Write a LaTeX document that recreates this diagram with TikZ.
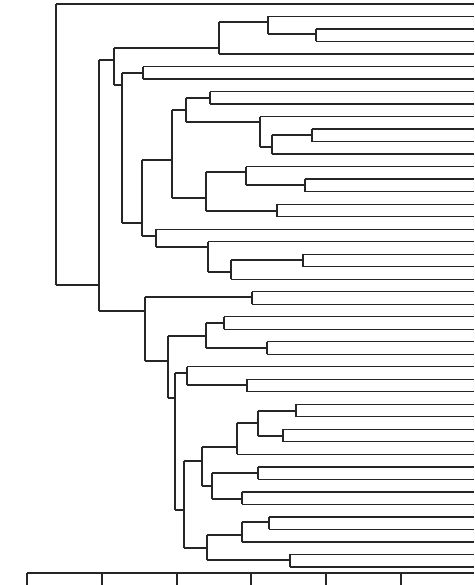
\documentclass[tikz,border=0pt]{standalone}
\begin{document}
\begin{tikzpicture}[x=1pt,y=-1pt,br/.style={draw=black!85,line width=1.3pt,line cap=square}]
\useasboundingbox (0,0) rectangle (474,585);
\fill[white] (0,0) rectangle (474,585);
% leaf branches: parent x / leaf y
\foreach \px/\y in {56/4.0, 268/16.5, 316/29.0, 316/41.5, 219/54.0, 143/66.6, 143/79.1,
  210/91.6, 210/104.1, 260/116.6, 312/129.1, 312/141.6, 272/154.1, 246/166.6,
  305/179.1, 305/191.7, 277/204.2, 277/216.7, 156/229.2, 208/241.7, 303/254.2,
  303/266.7, 231/279.2, 252/291.7, 252/304.2, 224/316.8, 224/329.3, 267/341.8,
  267/354.3, 187/366.8, 247/379.3, 247/391.8, 296/404.3, 296/416.8, 283/429.3,
  283/441.8, 237/454.4, 258/466.9, 258/479.4, 242/491.9, 242/504.4, 269/516.9,
  269/529.4, 242/541.9, 290/554.4, 290/567.0}
  \draw[br] (\px,\y) coordinate (tip) -- (474,\y);
% internal horizontal connectors: parent x / child x / y
\foreach \a/\b/\y in {56/99/285, 99/114/60, 114/219/48, 219/268/22, 268/316/34,
  114/122/85, 122/143/73, 122/142/223, 142/172/160, 172/186/110, 186/210/98,
  186/260/122, 260/272/147, 272/312/135, 172/206/198, 206/246/172, 246/305/185,
  206/277/211, 142/156/236, 156/208/247, 208/231/272, 231/303/260, 99/145/311,
  145/252/297, 145/168/361, 168/206/336, 206/224/323, 206/267/348, 168/175/398,
  175/187/373, 187/247/385, 175/184/510, 184/202/461, 202/237/447, 237/258/423,
  258/296/411, 258/283/436, 202/212/486, 212/258/473, 212/242/499, 184/207/548,
  207/242/535, 242/269/522, 207/290/560}
  \draw[br] (\a,\y) -- (\b,\y);
% verticals: x / top / bottom
\foreach \x/\ya/\yb in {56/4/285, 99/60/311, 114/48/85, 219/22/54, 268/16.5/34,
  316/29/41.5, 122/73/223, 143/66.6/79.1, 142/160/236, 172/110/198, 186/98/122,
  210/91.6/104.1, 260/116.6/147, 272/135/154.1, 312/129.1/141.6, 206/172/211,
  246/166.6/185, 305/179.1/191.7, 277/204.2/216.7, 156/229.2/247, 208/241.7/272,
  231/260/279.2, 303/254.2/266.7, 145/297/361, 252/291.7/304.2, 168/336/398,
  206/323/348, 224/316.8/329.3, 267/341.8/354.3, 175/373/510, 187/366.8/385,
  247/379.3/391.8, 184/461/548, 202/447/486, 237/423/454.4, 258/411/436,
  296/404.3/416.8, 283/429.3/441.8, 212/473/499, 258/466.9/479.4,
  242/491.9/504.4, 207/535/560, 242/522/541.9, 269/516.9/529.4, 290/554.4/567}
  \draw[br] (\x,\ya) -- (\x,\yb);
% axis
\coordinate (axL) at (27,573);
\coordinate (axR) at (474,573);
\draw[br] (axL) -- (axR);
\foreach \t in {27,102,177,251,326,401}
  \draw[br] (\t,573) -- (\t,585);
\end{tikzpicture}
\end{document}
